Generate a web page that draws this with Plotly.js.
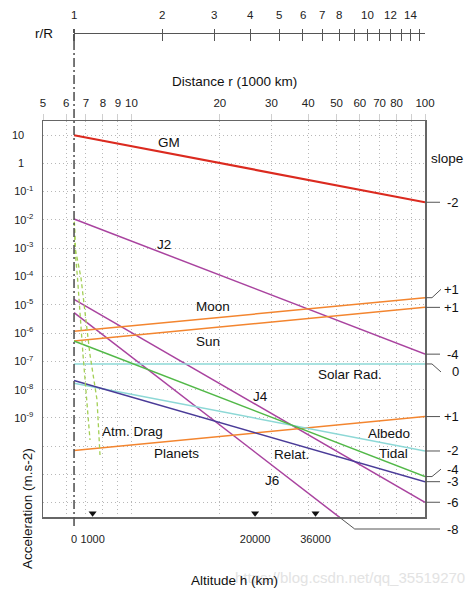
<!DOCTYPE html>
<html><head><meta charset="utf-8">
<script src="https://cdn.plot.ly/plotly-3.0.1.min.js"></script>
<style>html,body{margin:0;padding:0;background:#fff}#chart{width:474px;height:594px}</style>
</head><body><div id="chart"></div>
<script>
// ---------- data ----------
const R_EARTH = 6.378;                 // 1000 km
const rEnds = [R_EARTH, 100];          // distance r (1000 km) at both ends of each line

const gmAcc       = [9.8, 0.042];
const j2Acc       = [1.08e-2, 1.8e-7];
const j4Acc       = [1.56e-5, 1.05e-12];
const j6Acc       = [5.26e-6, 1.45e-15];
const moonAcc     = [1.15e-6, 1.78e-5];
const sunAcc      = [5.25e-7, 8.1e-6];
const solarRadAcc = [8.1e-8, 8.1e-8];
const tidalAcc    = [5.25e-7, 8.5e-12];
const albedoAcc   = [1.7e-8, 6.8e-11];
const relatAcc    = [2.1e-8, 5.6e-12];
const planetsAcc  = [7.1e-11, 1.12e-9];

// atmospheric drag (altitude km, acceleration m/s^2), two density cases
const dragAltLow  = [15, 49, 176, 280, 358, 465, 655, 851];
const dragAccLow  = [8.5e-3, 8.7e-4, 8.9e-5, 1.26e-5, 1.66e-6, 1.7e-7, 4.4e-9, 1.66e-10];
const dragAltHigh = [15, 74, 358, 519, 655, 851, 1259, 1440];
const dragAccHigh = [8.5e-3, 8.7e-4, 8.9e-5, 1.26e-5, 1.66e-6, 1.7e-7, 4.4e-9, 4.9e-11];

// axes ticks
const distTicks  = [5, 6, 7, 8, 9, 10, 20, 30, 40, 50, 60, 70, 80, 90, 100];
const distLabels = ['5','6','7','8','9','10','20','30','40','50','60','70','80','','100'];
const ratioTicks  = [1,2,3,4,5,6,7,8,9,10,11,12,13,14,15];
const ratioLabels = ['1','2','3','4','5','6','7','8','','10','','12','','14',''];
const altTicks  = [0, 1000, 20000, 36000];     // km
const altLabels = ['0', '1000', '20000', '36000'];
const markAlt   = [1000, 20000, 36000];        // km, triangle markers
const accExp    = [1,0,-1,-2,-3,-4,-5,-6,-7,-8,-9,-10,-11,-12];
const NB = '\u00a0';
const accLabels = accExp.map(e => e === 1 ? '10' + NB+NB+NB : e === 0 ? '1' + NB+NB+NB :
                                  e >= -9 ? '10<sup>' + e + '</sup>' : '');

// ---------- geometry helpers ----------
const W = 474, H = 594;
const ML = 43, MR = 49, MT = 10, MB = 77;
const PX0 = ML, PX1 = W - MR, PY1 = H - MB, PY0 = 121;
const PH = H - MT - MB;
const domTop = (PY1 - PY0) / PH;
const xr = [Math.log10(5), 2];
const yr = [-12.5, 1.495];
const pxX = lr => PX0 + (lr - xr[0]) / (xr[1] - xr[0]) * (PX1 - PX0);
const pxY = L => PY1 - (L - yr[0]) / (yr[1] - yr[0]) * (PY1 - PY0);
const paperX = px => (px - PX0) / (PX1 - PX0);
const paperY = py => (PY1 - py) / PH;

const FONT = 'Liberation Sans, Arial, Helvetica, sans-serif';
const C = {gm:'#db2a1f', j:'#a9439f', orange:'#f3852f', cyan:'#8dd8d6', green:'#52b848',
           indigo:'#4a3b98', drag:'#a3cf55', frame:'#666', grid:'#b8b8b8', lead:'#555'};

function lineTrace(acc, color, width) {
  return {x: rEnds, y: acc, type: 'scatter', mode: 'lines',
          line: {color: color, width: width || 1.5}, hoverinfo: 'skip', showlegend: false};
}
const traces = [
  lineTrace(gmAcc, C.gm, 2.2),
  lineTrace(j2Acc, C.j), lineTrace(j4Acc, C.j), lineTrace(j6Acc, C.j),
  lineTrace(moonAcc, C.orange), lineTrace(sunAcc, C.orange), lineTrace(planetsAcc, C.orange),
  lineTrace(solarRadAcc, C.cyan), lineTrace(albedoAcc, C.cyan),
  lineTrace(tidalAcc, C.green), lineTrace(relatAcc, C.indigo),
  {x: dragAltLow.map(h => R_EARTH + h / 1000), y: dragAccLow, type: 'scatter', mode: 'lines',
   line: {color: C.drag, width: 1.3, dash: '4px,3px'}, hoverinfo: 'skip', showlegend: false},
  {x: dragAltHigh.map(h => R_EARTH + h / 1000), y: dragAccHigh, type: 'scatter', mode: 'lines',
   line: {color: C.drag, width: 1.3, dash: '4px,3px'}, hoverinfo: 'skip', showlegend: false},
  // triangle markers on the altitude axis
  {x: markAlt.map(h => R_EARTH + h / 1000), y: markAlt.map(() => 4.3e-13), xaxis: 'x2',
   type: 'scatter', mode: 'markers', cliponaxis: false,
   marker: {symbol: 'triangle-down', size: 7, color: '#111'}, hoverinfo: 'skip', showlegend: false},
  // anchors for the r/R axis
  {x: [2], y: [0], xaxis: 'x3', yaxis: 'y2', mode: 'markers', marker: {opacity: 0}, hoverinfo: 'skip', showlegend: false},
  {x: [2], y: [0], xaxis: 'x4', yaxis: 'y2', mode: 'markers', marker: {opacity: 0}, hoverinfo: 'skip', showlegend: false}
];

// ---------- annotations ----------
const labelSpots = [
  {t: 'GM', r: 13.38, a: 5.66}, {t: 'J2', r: 12.92, a: 1.30e-3},
  {t: 'Moon', r: 18.97, a: 8.36e-6}, {t: 'Sun', r: 18.24, a: 4.97e-7},
  {t: 'Solar Rad.', r: 55.5, a: 3.44e-8}, {t: 'J4', r: 27.43, a: 5.52e-9},
  {t: 'Atm. Drag', r: 10.05, a: 3.39e-10}, {t: 'Planets', r: 14.19, a: 5.57e-11},
  {t: 'Albedo', r: 75.4, a: 2.72e-10}, {t: 'Relat.', r: 34.97, a: 4.93e-11},
  {t: 'Tidal', r: 78.13, a: 5.35e-11}, {t: 'J6', r: 30.13, a: 6.08e-12}
];
const annotations = labelSpots.map(s => ({
  text: s.t, x: Math.log10(s.r), y: Math.log10(s.a), xref: 'x', yref: 'y',
  xanchor: 'center', yanchor: 'middle',
  showarrow: false, font: {family: FONT, size: 13.5, color: '#111'}
}));

function addText(text, px, py, opt) {
  annotations.push(Object.assign({text: text, x: paperX(px), y: paperY(py), xref: 'paper', yref: 'paper',
    xanchor: 'center', yanchor: 'middle',
    showarrow: false, font: {family: FONT, size: 13.5, color: '#111'}}, opt || {}));
}
addText('https://blog.csdn.net/qq_35519270', 467, 577, {xanchor: 'right', font: {family: FONT, size: 15, color: '#e3e3e3'}});
addText('r/R', 44, 33.5);
addText('Distance r (1000 km)', 234, 81);
addText('Altitude h (km)', 234, 580);
addText('Acceleration (m.s-2)', 27, 509, {textangle: -90});
addText('slope', 446.5, 159);

// r/R tick labels placed on the r/R axis
ratioTicks.forEach((v, i) => {
  if (!ratioLabels[i]) return;
  annotations.push({text: ratioLabels[i], x: Math.log10(v), xref: 'x3', y: paperY(15), yref: 'paper',
    xanchor: 'center', yanchor: 'middle', showarrow: false, font: {family: FONT, size: 11.5, color: '#222'}});
});

// slope leaders
const slopeTags = [
  {t: '-2', acc: gmAcc, dy: 0}, {t: '+1', acc: moonAcc, dy: -8.4},
  {t: '+1', acc: sunAcc, dy: 0}, {t: '-4', acc: j2Acc, dy: 0},
  {t: '0', acc: solarRadAcc, dy: 8}, {t: '+1', acc: planetsAcc, dy: 0},
  {t: '-2', acc: albedoAcc, dy: 0}, {t: '-4', acc: tidalAcc, dy: -7.4},
  {t: '-3', acc: relatAcc, dy: 0}, {t: '-6', acc: j4Acc, dy: 0}
];
const shapes = [];
function pathPx(pts) {
  return pts.map((p, i) => (i ? 'L' : 'M') + paperX(p[0]).toFixed(5) + ',' + paperY(p[1]).toFixed(5)).join(' ');
}
slopeTags.forEach(s => {
  const py = pxY(Math.log10(s.acc[1]));
  const pts = s.dy === 0 ? [[PX1, py], [440, py]] : [[PX1, py], [432, py], [441, py + s.dy]];
  shapes.push({type: 'path', path: pathPx(pts), xref: 'paper', yref: 'paper', line: {color: C.lead, width: 1}});
  addText(s.t, 461, py + s.dy, {xanchor: 'right', font: {family: FONT, size: 13, color: '#111'}});
});
// J6 leaves the frame at the bottom: extend it, then lead to the label
(function () {
  const l0 = Math.log10(rEnds[0]), l1 = Math.log10(rEnds[1]);
  const a0 = Math.log10(j6Acc[0]), a1 = Math.log10(j6Acc[1]);
  const atPx = py => {
    const L = yr[0] + (PY1 - py) / (PY1 - PY0) * (yr[1] - yr[0]);
    return pxX(l0 + (L - a0) / (a1 - a0) * (l1 - l0));
  };
  const yLab = 529;
  shapes.push({type: 'path', path: pathPx([[atPx(PY1), PY1], [atPx(yLab), yLab], [440, yLab]]),
               xref: 'paper', yref: 'paper', line: {color: C.lead, width: 1}});
  addText('-8', 461, yLab, {xanchor: 'right', font: {family: FONT, size: 13, color: '#111'}});
})();
// Earth surface (r/R = 1)
const xE = paperX(pxX(Math.log10(R_EARTH)));
shapes.push({type: 'line', xref: 'paper', yref: 'paper', x0: xE, x1: xE, y0: paperY(526), y1: paperY(33),
             line: {color: '#555', width: 1.6, dash: '9px,3px,2px,3px'}});

// ---------- layout ----------
const tickFont = {family: FONT, size: 11.5, color: '#222'};
const layout = {
  width: W, height: H, margin: {l: ML, r: MR, t: MT, b: MB, pad: 0},
  paper_bgcolor: '#fff', plot_bgcolor: '#fff', showlegend: false,
  xaxis: {type: 'log', range: xr, side: 'top', tickvals: distTicks, ticktext: distLabels,
          ticks: 'outside', ticklen: 6, tickcolor: '#cfcfcf', tickwidth: 1, ticklabelstandoff: 2,
          showgrid: true, gridcolor: C.grid, gridwidth: 1, griddash: '1px,3px',
          showline: true, linecolor: C.frame, linewidth: 1.5, mirror: true, zeroline: false,
          tickfont: tickFont, anchor: 'y'},
  xaxis2: {type: 'log', range: xr, overlaying: 'x', side: 'bottom', anchor: 'y',
           tickvals: altTicks.map(h => R_EARTH + h / 1000), ticktext: altLabels,
           ticks: '', showgrid: false, showline: false, zeroline: false,
           ticklabelstandoff: 14, tickfont: {family: FONT, size: 11, color: '#222'}},
  xaxis3: {type: 'log', domain: [paperX(pxX(Math.log10(R_EARTH))), 1], range: [0, Math.log10(100 / R_EARTH)],
           anchor: 'free', position: paperY(33), side: 'top',
           tickvals: ratioTicks, showticklabels: false, ticks: 'outside', ticklen: 4,
           tickcolor: C.lead, tickwidth: 1.2, showline: true, linecolor: C.lead, linewidth: 1.2,
           showgrid: false, zeroline: false},
  xaxis4: {type: 'log', domain: [paperX(pxX(Math.log10(R_EARTH))), 1], range: [0, Math.log10(100 / R_EARTH)],
           anchor: 'free', position: paperY(33), side: 'bottom',
           tickvals: ratioTicks, ticks: 'outside', ticklen: 7, showticklabels: false,
           tickcolor: C.lead, tickwidth: 1.2, showline: false, showgrid: false, zeroline: false},
  yaxis: {type: 'log', range: yr, domain: [0, domTop], tickvals: accExp.map(e => Math.pow(10, e)),
          ticktext: accLabels, ticks: '', showgrid: true, gridcolor: C.grid, gridwidth: 1, griddash: '1px,3px',
          showline: true, linecolor: C.frame, linewidth: 1.5, mirror: true, zeroline: false,
          tickfont: {family: FONT, size: 11, color: '#222'}, ticklabelstandoff: 6},
  yaxis2: {domain: [0.97, 1], visible: false, range: [-1, 1]},
  annotations: annotations, shapes: shapes
};

Plotly.newPlot('chart', traces, layout, {staticPlot: true, displayModeBar: false});
</script></body></html>
